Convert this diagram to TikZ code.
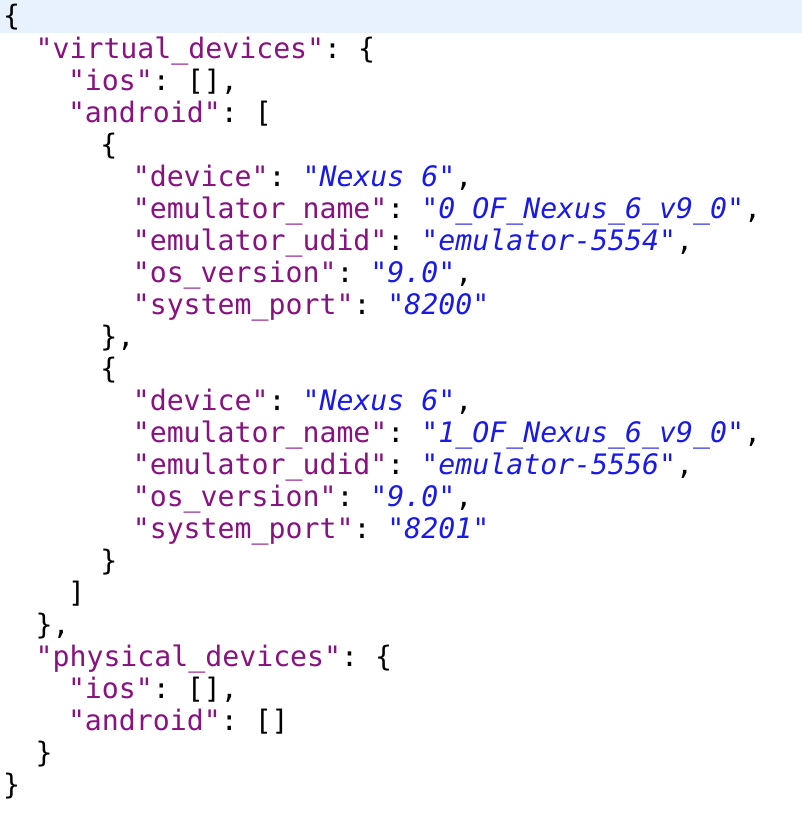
\documentclass[tikz,border=0pt]{standalone}
\usepackage{fontspec}
\setmonofont{DejaVu Sans Mono}
\definecolor{keyc}{RGB}{136,18,128}
\definecolor{valc}{RGB}{26,26,230}
\definecolor{hl}{RGB}{232,242,254}
\newcommand{\K}[1]{\textcolor{keyc}{"#1"}}
\newcommand{\V}[1]{\textcolor{valc}{\itshape "#1"}}
\tikzset{code/.style={anchor=base west,inner sep=0pt,font=\ttfamily\fontsize{28.2}{32}\selectfont}}
\begin{document}
\begin{tikzpicture}[x=1pt,y=1pt]
\useasboundingbox (0,0) rectangle (802,-824);
\fill[hl] (0,0) rectangle (802,-33);
\def\w{16.2}
\newcommand{\codeln}[3]{\node[code] (l#1) at ({3+#2*\w},{-26-(#1-1)*32.03}) {#3};}
\codeln{1}{0}{\{}
\codeln{2}{2}{\K{virtual\_devices}: \{}
\codeln{3}{4}{\K{ios}: [],}
\codeln{4}{4}{\K{android}: [}
\codeln{5}{6}{\{}
\codeln{6}{8}{\K{device}: \V{Nexus 6},}
\codeln{7}{8}{\K{emulator\_name}: \V{0\_OF\_Nexus\_6\_v9\_0},}
\codeln{8}{8}{\K{emulator\_udid}: \V{emulator-5554},}
\codeln{9}{8}{\K{os\_version}: \V{9.0},}
\codeln{10}{8}{\K{system\_port}: \V{8200}}
\codeln{11}{6}{\},}
\codeln{12}{6}{\{}
\codeln{13}{8}{\K{device}: \V{Nexus 6},}
\codeln{14}{8}{\K{emulator\_name}: \V{1\_OF\_Nexus\_6\_v9\_0},}
\codeln{15}{8}{\K{emulator\_udid}: \V{emulator-5556},}
\codeln{16}{8}{\K{os\_version}: \V{9.0},}
\codeln{17}{8}{\K{system\_port}: \V{8201}}
\codeln{18}{6}{\}}
\codeln{19}{4}{]}
\codeln{20}{2}{\},}
\codeln{21}{2}{\K{physical\_devices}: \{}
\codeln{22}{4}{\K{ios}: [],}
\codeln{23}{4}{\K{android}: []}
\codeln{24}{2}{\}}
\codeln{25}{0}{\}}
\end{tikzpicture}
\end{document}
